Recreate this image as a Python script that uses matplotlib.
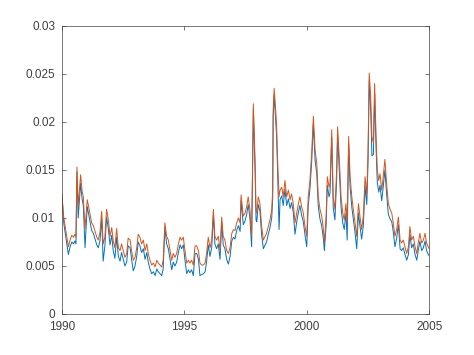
import matplotlib
matplotlib.use("Agg")
import matplotlib.pyplot as plt
import numpy as np

t = [
 1990.00,1990.07,1990.19,1990.26,1990.33,1990.40,1990.47,1990.53,1990.57,1990.61,1990.66,1990.76,1990.82,1990.87,1990.94,
 1991.03,1991.11,1991.21,1991.28,1991.35,1991.42,1991.48,1991.55,1991.62,1991.68,1991.75,1991.82,1991.89,1991.96,
 1992.03,1992.09,1992.16,1992.23,1992.30,1992.37,1992.43,1992.50,1992.57,1992.64,1992.70,1992.78,1992.84,1992.91,1992.98,
 1993.05,1993.11,1993.18,1993.25,1993.32,1993.39,1993.46,1993.52,1993.59,1993.66,1993.73,1993.80,1993.87,1993.93,
 1994.00,1994.07,1994.13,1994.20,1994.27,1994.34,1994.41,1994.48,1994.54,1994.61,1994.68,1994.75,1994.82,1994.88,1994.95,
 1995.02,1995.09,1995.16,1995.22,1995.29,1995.36,1995.43,1995.50,1995.57,1995.63,1995.70,1995.77,1995.84,1995.90,1995.97,
 1996.04,1996.11,1996.18,1996.24,1996.31,1996.38,1996.45,1996.52,1996.58,1996.65,1996.72,1996.79,1996.86,1996.93,
 1997.00,1997.06,1997.13,1997.20,1997.27,1997.31,1997.40,1997.47,1997.54,1997.60,1997.67,1997.74,1997.81,1997.88,1997.92,1997.95,
 1998.01,1998.08,1998.15,1998.22,1998.29,1998.35,1998.42,1998.49,1998.56,1998.60,1998.62,1998.66,1998.72,1998.76,1998.80,1998.86,1998.90,1998.97,
 1999.03,1999.10,1999.17,1999.24,1999.31,1999.37,1999.44,1999.51,1999.58,1999.65,1999.71,1999.78,1999.85,1999.92,1999.99,
 2000.05,2000.12,2000.19,2000.26,2000.33,2000.40,2000.46,2000.53,2000.60,2000.67,2000.71,2000.78,2000.83,2000.90,2000.94,
 2001.01,2001.07,2001.14,2001.21,2001.25,2001.32,2001.39,2001.46,2001.52,2001.59,2001.64,2001.70,2001.76,2001.83,2001.89,2001.96,
 2002.03,2002.10,2002.16,2002.23,2002.30,2002.37,2002.44,2002.49,2002.54,2002.60,2002.65,2002.71,2002.76,2002.82,2002.87,2002.93,2002.98,
 2003.05,2003.11,2003.18,2003.25,2003.32,2003.39,2003.46,2003.52,2003.59,2003.66,2003.73,2003.80,2003.86,2003.93,
 2004.00,2004.07,2004.14,2004.20,2004.27,2004.34,2004.41,2004.48,2004.54,2004.61,2004.68,2004.75,2004.82,2004.88,2004.95,2005.00]

orange = [
 0.0122,0.0101,0.0081,0.0070,0.0077,0.0082,0.0080,0.0083,0.0080,0.0153,0.0112,0.0145,0.0128,0.0122,0.0089,
 0.0119,0.0109,0.0095,0.0092,0.0086,0.0080,0.0077,0.0085,0.0107,0.0073,0.0080,0.0109,0.0098,0.0081,
 0.0090,0.0076,0.0069,0.0089,0.0069,0.0066,0.0073,0.0066,0.0059,0.0063,0.0079,0.0077,0.0066,0.0056,0.0059,
 0.0069,0.0083,0.0080,0.0073,0.0077,0.0066,0.0073,0.0063,0.0056,0.0051,0.0053,0.0049,0.0056,0.0053,
 0.0051,0.0049,0.0056,0.0095,0.0081,0.0077,0.0066,0.0056,0.0063,0.0059,0.0063,0.0073,0.0080,0.0077,0.0080,
 0.0066,0.0053,0.0056,0.0053,0.0056,0.0051,0.0071,0.0071,0.0066,0.0053,0.0051,0.0051,0.0053,0.0063,0.0080,
 0.0069,0.0077,0.0109,0.0081,0.0077,0.0081,0.0066,0.0101,0.0081,0.0077,0.0066,0.0063,0.0069,0.0084,
 0.0088,0.0087,0.0095,0.0100,0.0095,0.0124,0.0102,0.0105,0.0112,0.0122,0.0109,0.0081,0.0219,0.0161,0.0109,0.0105,
 0.0122,0.0115,0.0091,0.0077,0.0081,0.0084,0.0091,0.0098,0.0109,0.0129,0.0213,0.0235,0.0213,0.0196,0.0161,0.0122,0.0129,0.0132,
 0.0122,0.0139,0.0122,0.0129,0.0119,0.0125,0.0115,0.0095,0.0105,0.0115,0.0122,0.0112,0.0105,0.0091,0.0081,
 0.0122,0.0139,0.0167,0.0206,0.0171,0.0157,0.0122,0.0109,0.0102,0.0088,0.0074,0.0102,0.0143,0.0132,0.0136,
 0.0192,0.0122,0.0109,0.0150,0.0195,0.0161,0.0122,0.0105,0.0098,0.0115,0.0095,0.0185,0.0143,0.0122,0.0109,0.0095,
 0.0081,0.0115,0.0102,0.0088,0.0102,0.0143,0.0125,0.0167,0.0251,0.0227,0.0185,0.0178,0.0240,0.0185,0.0150,0.0139,0.0146,
 0.0129,0.0143,0.0161,0.0136,0.0115,0.0109,0.0105,0.0095,0.0081,0.0088,0.0101,0.0077,0.0074,0.0077,
 0.0070,0.0063,0.0070,0.0091,0.0077,0.0081,0.0070,0.0063,0.0074,0.0084,0.0074,0.0077,0.0084,0.0074,0.0070,0.0067]

blue = [
 0.0125,0.0095,0.0074,0.0062,0.0070,0.0075,0.0073,0.0076,0.0073,0.0148,0.0100,0.0136,0.0120,0.0113,0.0069,
 0.0112,0.0101,0.0087,0.0084,0.0078,0.0072,0.0069,0.0076,0.0100,0.0055,0.0071,0.0101,0.0089,0.0072,
 0.0082,0.0066,0.0058,0.0080,0.0060,0.0055,0.0064,0.0057,0.0050,0.0054,0.0071,0.0069,0.0057,0.0045,0.0050,
 0.0060,0.0075,0.0071,0.0064,0.0068,0.0057,0.0064,0.0054,0.0047,0.0042,0.0044,0.0040,0.0047,0.0044,
 0.0042,0.0040,0.0047,0.0090,0.0073,0.0068,0.0057,0.0046,0.0054,0.0050,0.0054,0.0064,0.0072,0.0068,0.0072,
 0.0056,0.0042,0.0046,0.0043,0.0046,0.0040,0.0063,0.0063,0.0057,0.0040,0.0041,0.0042,0.0044,0.0054,0.0072,
 0.0060,0.0069,0.0103,0.0073,0.0068,0.0073,0.0057,0.0095,0.0072,0.0068,0.0057,0.0052,0.0060,0.0076,
 0.0080,0.0078,0.0087,0.0092,0.0086,0.0118,0.0093,0.0097,0.0104,0.0114,0.0100,0.0070,0.0213,0.0150,0.0098,0.0096,
 0.0114,0.0107,0.0082,0.0068,0.0072,0.0075,0.0083,0.0090,0.0100,0.0120,0.0205,0.0228,0.0203,0.0185,0.0148,0.0088,0.0119,0.0123,
 0.0113,0.0130,0.0113,0.0120,0.0110,0.0116,0.0106,0.0083,0.0096,0.0106,0.0113,0.0103,0.0096,0.0082,0.0070,
 0.0113,0.0130,0.0158,0.0198,0.0160,0.0146,0.0112,0.0099,0.0092,0.0078,0.0066,0.0092,0.0134,0.0122,0.0126,
 0.0184,0.0111,0.0098,0.0140,0.0187,0.0150,0.0111,0.0095,0.0088,0.0105,0.0077,0.0177,0.0132,0.0111,0.0099,0.0085,
 0.0068,0.0105,0.0092,0.0078,0.0092,0.0133,0.0114,0.0156,0.0243,0.0212,0.0165,0.0166,0.0230,0.0172,0.0137,0.0127,0.0134,
 0.0118,0.0132,0.0150,0.0125,0.0104,0.0099,0.0096,0.0086,0.0070,0.0079,0.0093,0.0068,0.0066,0.0069,
 0.0062,0.0056,0.0062,0.0083,0.0069,0.0073,0.0062,0.0056,0.0066,0.0076,0.0066,0.0069,0.0076,0.0066,0.0062,0.0060]

xticks = [1990, 1995, 2000, 2005]
xticklabels = ["1990", "1995", "2000", "2005"]
yticks = [0, 0.005, 0.01, 0.015, 0.02, 0.025, 0.03]
yticklabels = ["0", "0.005", "0.01", "0.015", "0.02", "0.025", "0.03"]

plt.rcParams['font.family'] = ['Liberation Sans', 'DejaVu Sans']
fig = plt.figure(figsize=(4.74, 3.55), dpi=100)
ax = fig.add_axes([0.1308, 0.1155, 0.7753, 0.8113])
ax.plot(t, blue, color='#0072BD', lw=0.7)
ax.plot(t, orange, color='#D95319', lw=0.7)
ax.set_xlim(1990, 2005)
ax.set_ylim(0, 0.03)
ax.set_xticks(xticks)
ax.set_xticklabels(xticklabels)
ax.set_yticks(yticks)
ax.set_yticklabels(yticklabels)
for s in ax.spines.values():
    s.set_color('#404040')
    s.set_linewidth(0.5)
ax.tick_params(direction='in', top=True, right=True, length=3, width=0.5,
               colors='#404040', labelsize=8.5, pad=5)
fig.savefig('out.png', dpi=100, facecolor='white')
